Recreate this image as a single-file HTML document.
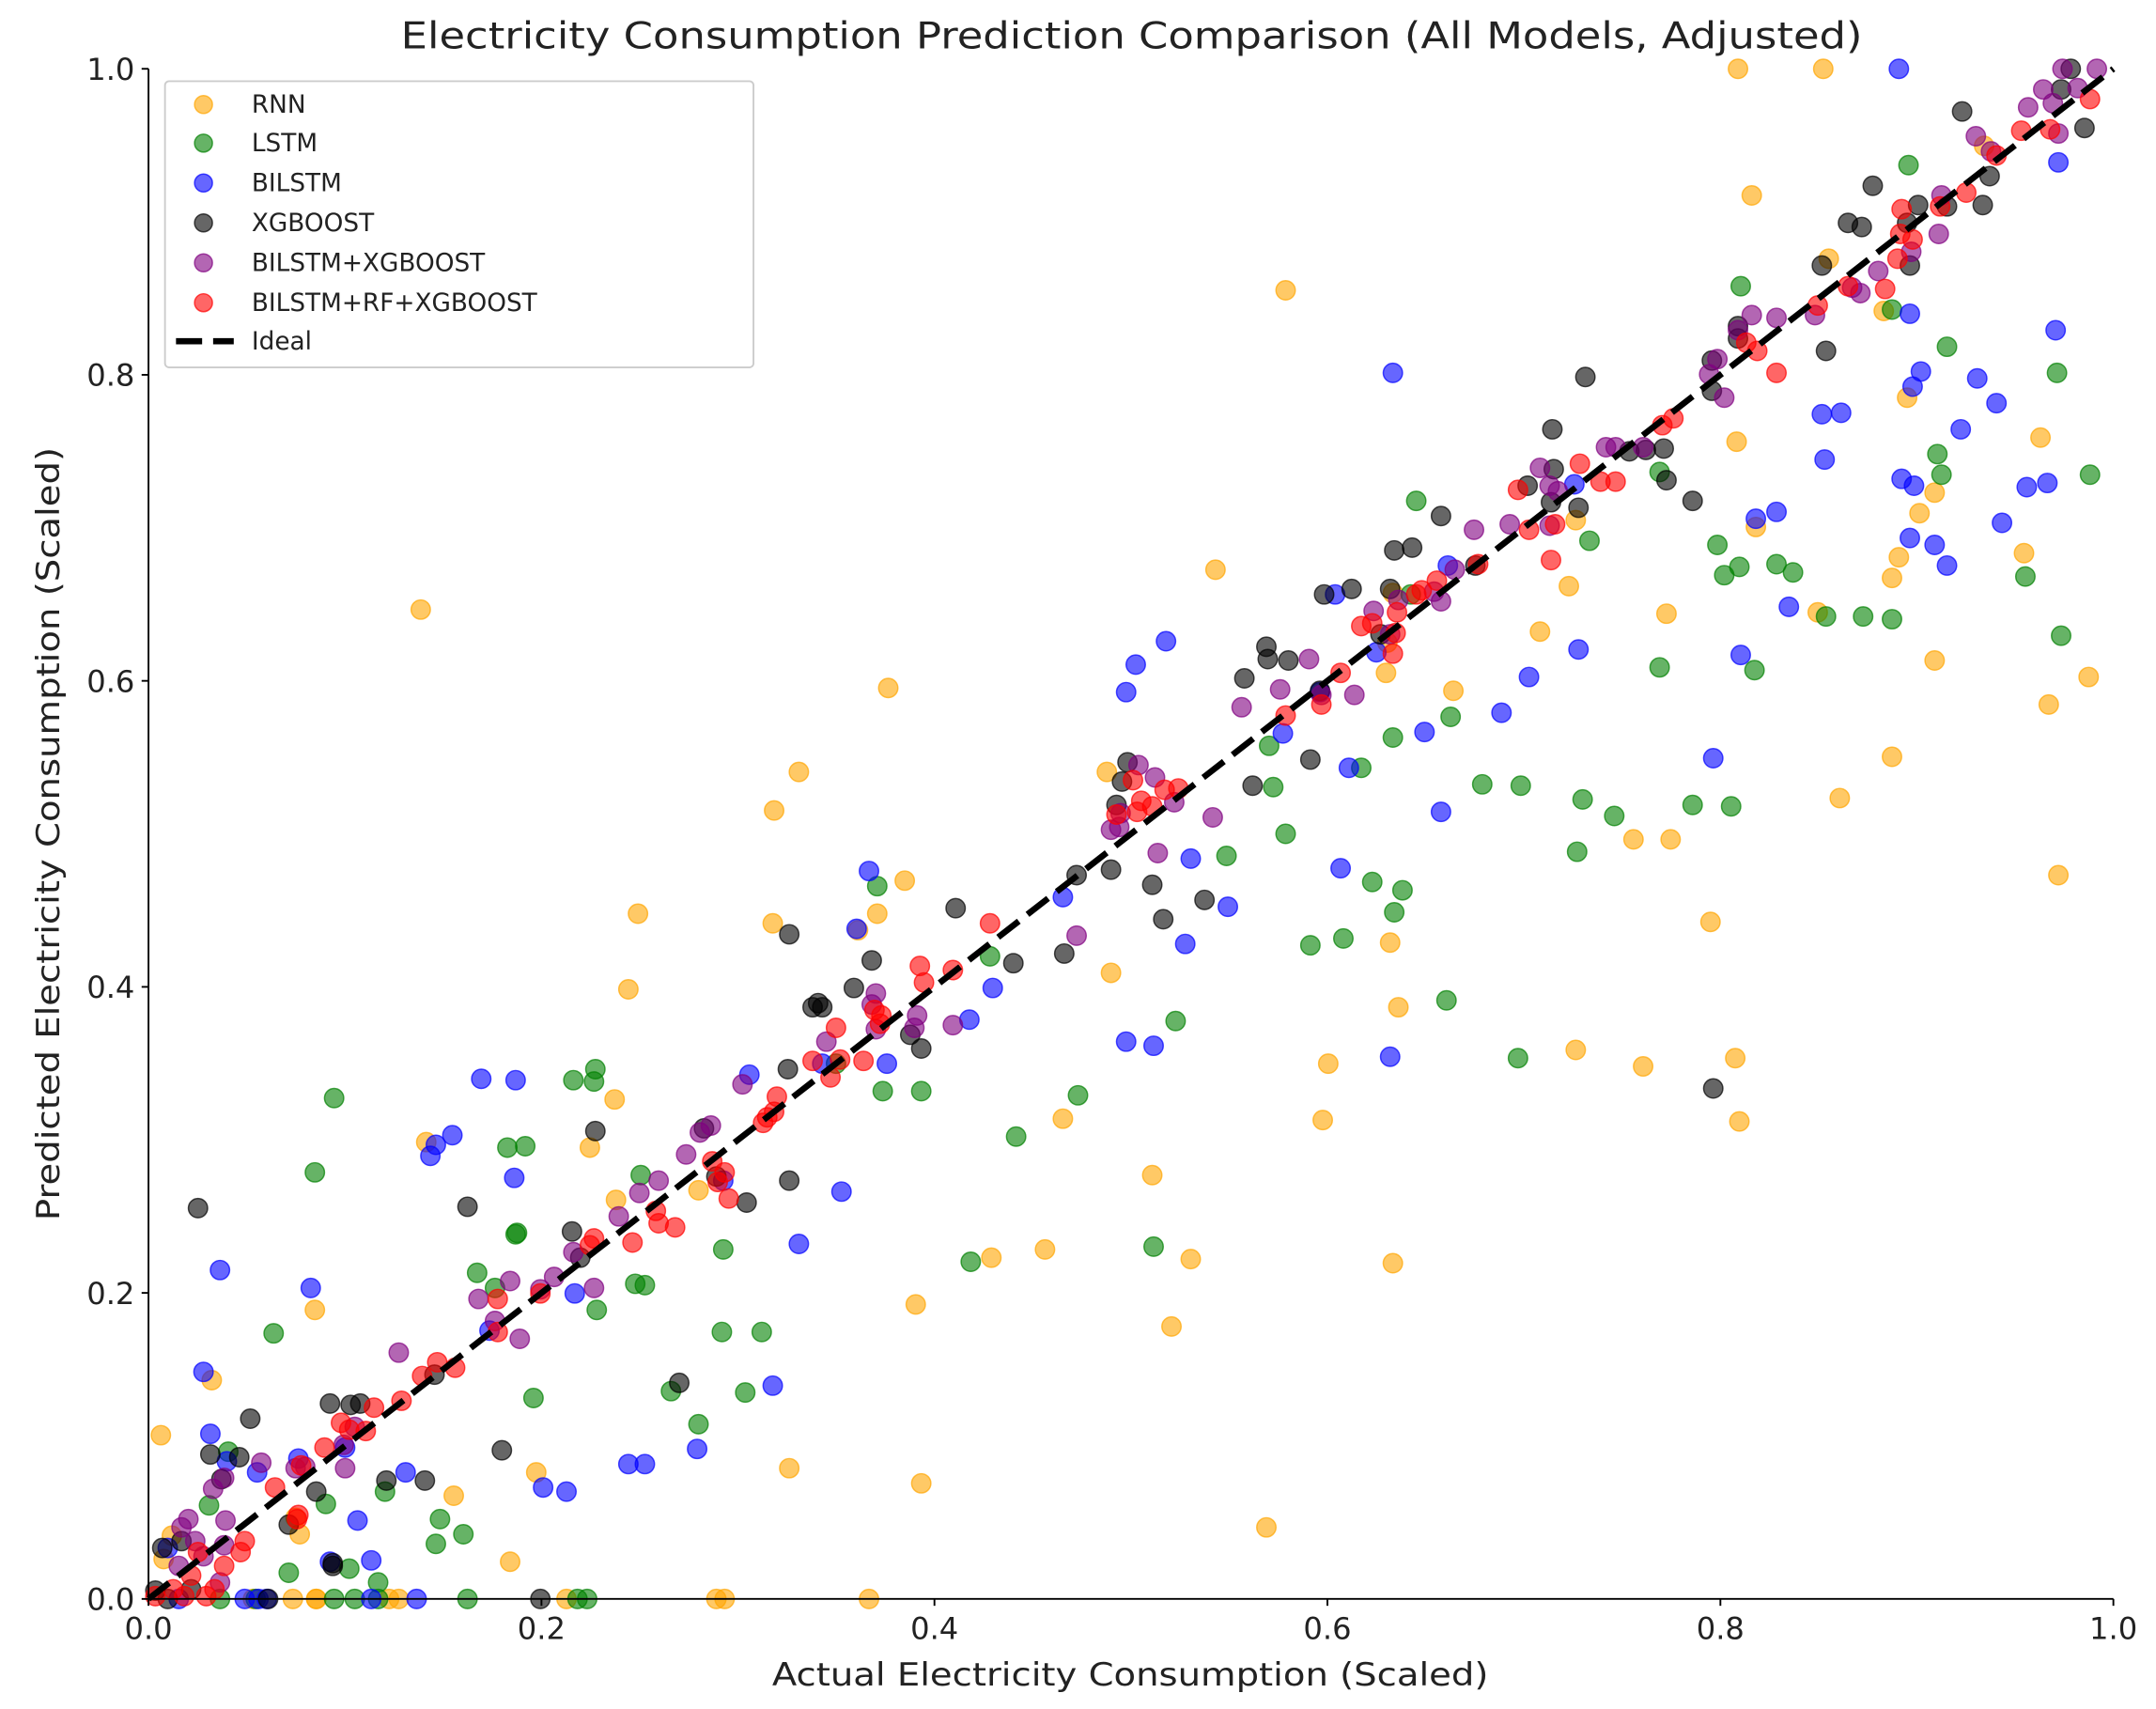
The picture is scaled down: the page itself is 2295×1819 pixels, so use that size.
<!DOCTYPE html>
<html><head><meta charset="utf-8"><style>
html,body{margin:0;padding:0;background:#fff}
svg{display:block}
text{font-family:"DejaVu Sans","Liberation Sans",sans-serif;fill:#222}
.o{fill:rgba(255,165,0,.6);stroke:rgba(255,165,0,.7);stroke-width:1}
.g{fill:rgba(0,128,0,.6);stroke:rgba(0,128,0,.7);stroke-width:1}
.b{fill:rgba(0,0,255,.6);stroke:rgba(0,0,255,.7);stroke-width:1}
.k{fill:rgba(0,0,0,.6);stroke:rgba(0,0,0,.7);stroke-width:1}
.p{fill:rgba(128,0,128,.6);stroke:rgba(128,0,128,.7);stroke-width:1}
.r{fill:rgba(255,0,0,.6);stroke:rgba(255,0,0,.7);stroke-width:1}
</style></head><body>
<svg width="2295" height="1819" viewBox="0 0 1568 1242" preserveAspectRatio="none" xmlns="http://www.w3.org/2000/svg">
<rect width="1568" height="1242" fill="#fff"/>
<text x="823" y="35" font-size="27" text-anchor="middle" textLength="1063" lengthAdjust="spacingAndGlyphs">Electricity Consumption Prediction Comparison (All Models, Adjusted)</text>
<g id="pts">
<g class="o" r="7">
<circle cx="1264" cy="50" r="7"/><circle cx="1326" cy="50" r="7"/><circle cx="1274" cy="142" r="7"/><circle cx="935" cy="211" r="7"/><circle cx="1387" cy="289" r="7"/><circle cx="1396" cy="373" r="7"/><circle cx="1407" cy="358" r="7"/><circle cx="1484" cy="318" r="7"/><circle cx="1472" cy="402" r="7"/><circle cx="1407" cy="480" r="7"/><circle cx="1519" cy="492" r="7"/><circle cx="1490" cy="512" r="7"/><circle cx="1497" cy="636" r="7"/><circle cx="1381" cy="405" r="7"/><circle cx="1376" cy="420" r="7"/><circle cx="1376" cy="550" r="7"/><circle cx="1338" cy="580" r="7"/><circle cx="1322" cy="445" r="7"/><circle cx="1263" cy="321" r="7"/><circle cx="1277" cy="383" r="7"/><circle cx="1262" cy="769" r="7"/><circle cx="1265" cy="815" r="7"/><circle cx="1244" cy="670" r="7"/><circle cx="1215" cy="610" r="7"/><circle cx="1195" cy="775" r="7"/><circle cx="1212" cy="446" r="7"/><circle cx="1188" cy="610" r="7"/><circle cx="1146" cy="763" r="7"/><circle cx="1141" cy="426" r="7"/><circle cx="1146" cy="378" r="7"/><circle cx="1120" cy="459" r="7"/><circle cx="1057" cy="502" r="7"/><circle cx="1013" cy="431" r="7"/><circle cx="1017" cy="732" r="7"/><circle cx="1013" cy="918" r="7"/><circle cx="1011" cy="685" r="7"/><circle cx="1008" cy="489" r="7"/><circle cx="962" cy="814" r="7"/><circle cx="966" cy="773" r="7"/><circle cx="884" cy="414" r="7"/><circle cx="808" cy="707" r="7"/><circle cx="773" cy="813" r="7"/><circle cx="760" cy="908" r="7"/><circle cx="721" cy="914" r="7"/><circle cx="646" cy="500" r="7"/><circle cx="658" cy="640" r="7"/><circle cx="638" cy="664" r="7"/><circle cx="624" cy="676" r="7"/><circle cx="581" cy="561" r="7"/><circle cx="563" cy="589" r="7"/><circle cx="562" cy="671" r="7"/><circle cx="574" cy="1067" r="7"/><circle cx="670" cy="1078" r="7"/><circle cx="666" cy="948" r="7"/><circle cx="852" cy="964" r="7"/><circle cx="866" cy="915" r="7"/><circle cx="838" cy="854" r="7"/><circle cx="464" cy="664" r="7"/><circle cx="457" cy="719" r="7"/><circle cx="447" cy="799" r="7"/><circle cx="429" cy="834" r="7"/><circle cx="390" cy="1070" r="7"/><circle cx="371" cy="1135" r="7"/><circle cx="330" cy="1087" r="7"/><circle cx="306" cy="443" r="7"/><circle cx="230" cy="1162" r="7"/><circle cx="213" cy="1162" r="7"/><circle cx="184" cy="1162" r="7"/><circle cx="117" cy="1043" r="7"/><circle cx="125" cy="1116" r="7"/><circle cx="154" cy="1003" r="7"/><circle cx="229" cy="952" r="7"/><circle cx="218" cy="1115" r="7"/><circle cx="215" cy="1103" r="7"/><circle cx="119" cy="1133" r="7"/><circle cx="230" cy="1162" r="7"/><circle cx="283" cy="1162" r="7"/><circle cx="521" cy="1162" r="7"/><circle cx="527" cy="1162" r="7"/><circle cx="632" cy="1162" r="7"/><circle cx="921" cy="1110" r="7"/><circle cx="412" cy="1162" r="7"/><circle cx="1330" cy="188" r="7"/><circle cx="1370" cy="226" r="7"/><circle cx="1443" cy="106" r="7"/><circle cx="1009" cy="467" r="7"/><circle cx="805" cy="561" r="7"/><circle cx="310" cy="830" r="7"/><circle cx="448" cy="872" r="7"/><circle cx="290" cy="1162" r="7"/><circle cx="508" cy="865" r="7"/>
</g>
<g class="g">
<circle cx="1266" cy="208" r="7"/><circle cx="1388" cy="120" r="7"/><circle cx="1416" cy="252" r="7"/><circle cx="1496" cy="271" r="7"/><circle cx="1520" cy="345" r="7"/><circle cx="1499" cy="462" r="7"/><circle cx="1473" cy="419" r="7"/><circle cx="1409" cy="330" r="7"/><circle cx="1412" cy="345" r="7"/><circle cx="1376" cy="225" r="7"/><circle cx="1376" cy="450" r="7"/><circle cx="1355" cy="448" r="7"/><circle cx="1328" cy="448" r="7"/><circle cx="1304" cy="416" r="7"/><circle cx="1292" cy="410" r="7"/><circle cx="1276" cy="487" r="7"/><circle cx="1265" cy="412" r="7"/><circle cx="1254" cy="418" r="7"/><circle cx="1249" cy="396" r="7"/><circle cx="1259" cy="586" r="7"/><circle cx="1231" cy="585" r="7"/><circle cx="1207" cy="485" r="7"/><circle cx="1207" cy="343" r="7"/><circle cx="1156" cy="393" r="7"/><circle cx="1151" cy="581" r="7"/><circle cx="1174" cy="593" r="7"/><circle cx="1147" cy="619" r="7"/><circle cx="1106" cy="571" r="7"/><circle cx="1104" cy="769" r="7"/><circle cx="1078" cy="570" r="7"/><circle cx="1052" cy="727" r="7"/><circle cx="1055" cy="521" r="7"/><circle cx="1030" cy="364" r="7"/><circle cx="1020" cy="647" r="7"/><circle cx="1014" cy="663" r="7"/><circle cx="1013" cy="536" r="7"/><circle cx="998" cy="641" r="7"/><circle cx="977" cy="682" r="7"/><circle cx="990" cy="558" r="7"/><circle cx="953" cy="687" r="7"/><circle cx="935" cy="606" r="7"/><circle cx="926" cy="572" r="7"/><circle cx="923" cy="542" r="7"/><circle cx="892" cy="622" r="7"/><circle cx="855" cy="742" r="7"/><circle cx="839" cy="906" r="7"/><circle cx="784" cy="796" r="7"/><circle cx="739" cy="826" r="7"/><circle cx="706" cy="917" r="7"/><circle cx="720" cy="695" r="7"/><circle cx="638" cy="644" r="7"/><circle cx="670" cy="793" r="7"/><circle cx="608" cy="773" r="7"/><circle cx="526" cy="908" r="7"/><circle cx="554" cy="968" r="7"/><circle cx="508" cy="1035" r="7"/><circle cx="488" cy="1011" r="7"/><circle cx="469" cy="934" r="7"/><circle cx="466" cy="854" r="7"/><circle cx="432" cy="786" r="7"/><circle cx="427" cy="1162" r="7"/><circle cx="420" cy="1162" r="7"/><circle cx="340" cy="1162" r="7"/><circle cx="337" cy="1115" r="7"/><circle cx="317" cy="1122" r="7"/><circle cx="280" cy="1084" r="7"/><circle cx="275" cy="1162" r="7"/><circle cx="258" cy="1162" r="7"/><circle cx="243" cy="1162" r="7"/><circle cx="237" cy="1093" r="7"/><circle cx="186" cy="1162" r="7"/><circle cx="160" cy="1162" r="7"/><circle cx="166" cy="1055" r="7"/><circle cx="243" cy="798" r="7"/><circle cx="229" cy="852" r="7"/><circle cx="199" cy="969" r="7"/><circle cx="210" cy="1143" r="7"/><circle cx="275" cy="1150" r="7"/><circle cx="254" cy="1140" r="7"/><circle cx="369" cy="834" r="7"/><circle cx="360" cy="936" r="7"/><circle cx="375" cy="897" r="7"/><circle cx="382" cy="833" r="7"/><circle cx="388" cy="1016" r="7"/><circle cx="417" cy="785" r="7"/><circle cx="376" cy="896" r="7"/><circle cx="434" cy="952" r="7"/><circle cx="320" cy="1104" r="7"/><circle cx="347" cy="925" r="7"/><circle cx="433" cy="777" r="7"/><circle cx="462" cy="933" r="7"/><circle cx="525" cy="968" r="7"/><circle cx="542" cy="1012" r="7"/><circle cx="642" cy="793" r="7"/><circle cx="1026" cy="432" r="7"/><circle cx="152" cy="1094" r="7"/>
</g>
<g class="b">
<circle cx="1381" cy="50" r="7"/><circle cx="1497" cy="118" r="7"/><circle cx="1495" cy="240" r="7"/><circle cx="1456" cy="380" r="7"/><circle cx="1438" cy="275" r="7"/><circle cx="1452" cy="293" r="7"/><circle cx="1474" cy="354" r="7"/><circle cx="1489" cy="351" r="7"/><circle cx="1416" cy="411" r="7"/><circle cx="1407" cy="396" r="7"/><circle cx="1392" cy="353" r="7"/><circle cx="1383" cy="348" r="7"/><circle cx="1389" cy="391" r="7"/><circle cx="1397" cy="270" r="7"/><circle cx="1391" cy="281" r="7"/><circle cx="1389" cy="228" r="7"/><circle cx="1339" cy="300" r="7"/><circle cx="1327" cy="334" r="7"/><circle cx="1301" cy="441" r="7"/><circle cx="1266" cy="476" r="7"/><circle cx="1277" cy="377" r="7"/><circle cx="1292" cy="372" r="7"/><circle cx="1246" cy="551" r="7"/><circle cx="1148" cy="472" r="7"/><circle cx="1112" cy="492" r="7"/><circle cx="1092" cy="518" r="7"/><circle cx="1013" cy="271" r="7"/><circle cx="1036" cy="532" r="7"/><circle cx="1048" cy="590" r="7"/><circle cx="1053" cy="411" r="7"/><circle cx="1011" cy="768" r="7"/><circle cx="1001" cy="474" r="7"/><circle cx="981" cy="558" r="7"/><circle cx="975" cy="631" r="7"/><circle cx="971" cy="432" r="7"/><circle cx="933" cy="533" r="7"/><circle cx="893" cy="659" r="7"/><circle cx="862" cy="686" r="7"/><circle cx="866" cy="624" r="7"/><circle cx="848" cy="466" r="7"/><circle cx="826" cy="483" r="7"/><circle cx="839" cy="760" r="7"/><circle cx="819" cy="757" r="7"/><circle cx="819" cy="503" r="7"/><circle cx="773" cy="652" r="7"/><circle cx="722" cy="718" r="7"/><circle cx="705" cy="741" r="7"/><circle cx="632" cy="633" r="7"/><circle cx="623" cy="675" r="7"/><circle cx="645" cy="773" r="7"/><circle cx="598" cy="773" r="7"/><circle cx="581" cy="904" r="7"/><circle cx="562" cy="1007" r="7"/><circle cx="545" cy="781" r="7"/><circle cx="526" cy="858" r="7"/><circle cx="507" cy="1053" r="7"/><circle cx="469" cy="1064" r="7"/><circle cx="457" cy="1064" r="7"/><circle cx="412" cy="1084" r="7"/><circle cx="395" cy="1081" r="7"/><circle cx="418" cy="940" r="7"/><circle cx="375" cy="785" r="7"/><circle cx="356" cy="967" r="7"/><circle cx="329" cy="825" r="7"/><circle cx="350" cy="784" r="7"/><circle cx="317" cy="832" r="7"/><circle cx="313" cy="840" r="7"/><circle cx="295" cy="1070" r="7"/><circle cx="270" cy="1134" r="7"/><circle cx="251" cy="1052" r="7"/><circle cx="240" cy="1135" r="7"/><circle cx="217" cy="1060" r="7"/><circle cx="188" cy="1162" r="7"/><circle cx="178" cy="1162" r="7"/><circle cx="148" cy="997" r="7"/><circle cx="165" cy="1062" r="7"/><circle cx="194" cy="1162" r="7"/><circle cx="226" cy="936" r="7"/><circle cx="160" cy="923" r="7"/><circle cx="153" cy="1042" r="7"/><circle cx="130" cy="1162" r="7"/><circle cx="187" cy="1070" r="7"/><circle cx="260" cy="1105" r="7"/><circle cx="122" cy="1125" r="7"/><circle cx="270" cy="1162" r="7"/><circle cx="303" cy="1162" r="7"/><circle cx="374" cy="856" r="7"/><circle cx="612" cy="866" r="7"/><circle cx="960" cy="503" r="7"/><circle cx="1145" cy="352" r="7"/><circle cx="1325" cy="301" r="7"/><circle cx="1426" cy="312" r="7"/>
</g>
<g class="k">
<circle cx="1506" cy="50" r="7"/><circle cx="1516" cy="93" r="7"/><circle cx="1499" cy="65" r="7"/><circle cx="1427" cy="81" r="7"/><circle cx="1447" cy="128" r="7"/><circle cx="1442" cy="149" r="7"/><circle cx="1416" cy="150" r="7"/><circle cx="1395" cy="149" r="7"/><circle cx="1387" cy="162" r="7"/><circle cx="1389" cy="193" r="7"/><circle cx="1354" cy="165" r="7"/><circle cx="1362" cy="135" r="7"/><circle cx="1344" cy="162" r="7"/><circle cx="1328" cy="255" r="7"/><circle cx="1325" cy="193" r="7"/><circle cx="1264" cy="237" r="7"/><circle cx="1264" cy="246" r="7"/><circle cx="1245" cy="262" r="7"/><circle cx="1245" cy="284" r="7"/><circle cx="1210" cy="326" r="7"/><circle cx="1212" cy="349" r="7"/><circle cx="1197" cy="327" r="7"/><circle cx="1231" cy="364" r="7"/><circle cx="1153" cy="274" r="7"/><circle cx="1148" cy="369" r="7"/><circle cx="1128" cy="365" r="7"/><circle cx="1130" cy="341" r="7"/><circle cx="1111" cy="353" r="7"/><circle cx="1073" cy="411" r="7"/><circle cx="1048" cy="375" r="7"/><circle cx="1027" cy="398" r="7"/><circle cx="1014" cy="400" r="7"/><circle cx="1011" cy="428" r="7"/><circle cx="1004" cy="461" r="7"/><circle cx="983" cy="428" r="7"/><circle cx="963" cy="432" r="7"/><circle cx="953" cy="552" r="7"/><circle cx="960" cy="502" r="7"/><circle cx="937" cy="480" r="7"/><circle cx="921" cy="470" r="7"/><circle cx="922" cy="479" r="7"/><circle cx="905" cy="493" r="7"/><circle cx="911" cy="571" r="7"/><circle cx="876" cy="654" r="7"/><circle cx="846" cy="668" r="7"/><circle cx="838" cy="643" r="7"/><circle cx="820" cy="554" r="7"/><circle cx="816" cy="568" r="7"/><circle cx="812" cy="585" r="7"/><circle cx="808" cy="632" r="7"/><circle cx="783" cy="636" r="7"/><circle cx="737" cy="700" r="7"/><circle cx="695" cy="660" r="7"/><circle cx="774" cy="693" r="7"/><circle cx="670" cy="762" r="7"/><circle cx="662" cy="752" r="7"/><circle cx="634" cy="698" r="7"/><circle cx="621" cy="718" r="7"/><circle cx="595" cy="729" r="7"/><circle cx="591" cy="732" r="7"/><circle cx="574" cy="679" r="7"/><circle cx="574" cy="858" r="7"/><circle cx="573" cy="777" r="7"/><circle cx="543" cy="874" r="7"/><circle cx="521" cy="855" r="7"/><circle cx="512" cy="820" r="7"/><circle cx="494" cy="1005" r="7"/><circle cx="433" cy="822" r="7"/><circle cx="422" cy="914" r="7"/><circle cx="416" cy="895" r="7"/><circle cx="365" cy="1054" r="7"/><circle cx="340" cy="877" r="7"/><circle cx="316" cy="999" r="7"/><circle cx="281" cy="1076" r="7"/><circle cx="262" cy="1020" r="7"/><circle cx="230" cy="1084" r="7"/><circle cx="242" cy="1138" r="7"/><circle cx="240" cy="1020" r="7"/><circle cx="210" cy="1108" r="7"/><circle cx="153" cy="1057" r="7"/><circle cx="144" cy="878" r="7"/><circle cx="182" cy="1031" r="7"/><circle cx="174" cy="1059" r="7"/><circle cx="118" cy="1125" r="7"/><circle cx="132" cy="1120" r="7"/><circle cx="161" cy="1075" r="7"/><circle cx="139" cy="1155" r="7"/><circle cx="113" cy="1156" r="7"/><circle cx="195" cy="1162" r="7"/><circle cx="309" cy="1076" r="7"/><circle cx="393" cy="1162" r="7"/><circle cx="122" cy="1162" r="7"/><circle cx="242" cy="1136" r="7"/><circle cx="255" cy="1021" r="7"/><circle cx="598" cy="732" r="7"/><circle cx="1185" cy="328" r="7"/><circle cx="1129" cy="312" r="7"/><circle cx="1246" cy="791" r="7"/>
</g>
<g class="p">
<circle cx="1500" cy="50" r="7"/><circle cx="1511" cy="64" r="7"/><circle cx="1525" cy="50" r="7"/><circle cx="1486" cy="65" r="7"/><circle cx="1475" cy="78" r="7"/><circle cx="1493" cy="75" r="7"/><circle cx="1497" cy="97" r="7"/><circle cx="1437" cy="99" r="7"/><circle cx="1448" cy="110" r="7"/><circle cx="1412" cy="142" r="7"/><circle cx="1410" cy="170" r="7"/><circle cx="1390" cy="183" r="7"/><circle cx="1366" cy="197" r="7"/><circle cx="1353" cy="213" r="7"/><circle cx="1347" cy="209" r="7"/><circle cx="1320" cy="229" r="7"/><circle cx="1292" cy="231" r="7"/><circle cx="1274" cy="229" r="7"/><circle cx="1264" cy="240" r="7"/><circle cx="1249" cy="261" r="7"/><circle cx="1254" cy="289" r="7"/><circle cx="1243" cy="272" r="7"/><circle cx="1168" cy="325" r="7"/><circle cx="1175" cy="325" r="7"/><circle cx="1120" cy="340" r="7"/><circle cx="1127" cy="353" r="7"/><circle cx="1127" cy="382" r="7"/><circle cx="1098" cy="381" r="7"/><circle cx="1058" cy="414" r="7"/><circle cx="1048" cy="437" r="7"/><circle cx="1043" cy="430" r="7"/><circle cx="1017" cy="436" r="7"/><circle cx="1011" cy="461" r="7"/><circle cx="999" cy="444" r="7"/><circle cx="985" cy="505" r="7"/><circle cx="961" cy="505" r="7"/><circle cx="952" cy="479" r="7"/><circle cx="931" cy="501" r="7"/><circle cx="903" cy="514" r="7"/><circle cx="882" cy="594" r="7"/><circle cx="854" cy="583" r="7"/><circle cx="840" cy="565" r="7"/><circle cx="828" cy="556" r="7"/><circle cx="815" cy="591" r="7"/><circle cx="814" cy="601" r="7"/><circle cx="842" cy="620" r="7"/><circle cx="808" cy="603" r="7"/><circle cx="783" cy="680" r="7"/><circle cx="693" cy="745" r="7"/><circle cx="667" cy="738" r="7"/><circle cx="665" cy="747" r="7"/><circle cx="637" cy="722" r="7"/><circle cx="634" cy="730" r="7"/><circle cx="637" cy="748" r="7"/><circle cx="601" cy="757" r="7"/><circle cx="540" cy="788" r="7"/><circle cx="517" cy="818" r="7"/><circle cx="509" cy="823" r="7"/><circle cx="499" cy="839" r="7"/><circle cx="479" cy="858" r="7"/><circle cx="465" cy="867" r="7"/><circle cx="450" cy="884" r="7"/><circle cx="432" cy="936" r="7"/><circle cx="417" cy="910" r="7"/><circle cx="403" cy="928" r="7"/><circle cx="393" cy="937" r="7"/><circle cx="378" cy="973" r="7"/><circle cx="371" cy="931" r="7"/><circle cx="360" cy="960" r="7"/><circle cx="348" cy="944" r="7"/><circle cx="290" cy="983" r="7"/><circle cx="258" cy="1037" r="7"/><circle cx="251" cy="1067" r="7"/><circle cx="222" cy="1066" r="7"/><circle cx="215" cy="1067" r="7"/><circle cx="190" cy="1063" r="7"/><circle cx="164" cy="1105" r="7"/><circle cx="163" cy="1123" r="7"/><circle cx="163" cy="1074" r="7"/><circle cx="155" cy="1082" r="7"/><circle cx="137" cy="1104" r="7"/><circle cx="132" cy="1110" r="7"/><circle cx="130" cy="1138" r="7"/><circle cx="142" cy="1120" r="7"/><circle cx="148" cy="1131" r="7"/><circle cx="160" cy="1150" r="7"/><circle cx="250" cy="1050" r="7"/><circle cx="1072" cy="385" r="7"/><circle cx="1133" cy="357" r="7"/><circle cx="1195" cy="325" r="7"/>
</g>
<g class="r">
<circle cx="1520" cy="72" r="7"/><circle cx="1491" cy="94" r="7"/><circle cx="1470" cy="95" r="7"/><circle cx="1452" cy="113" r="7"/><circle cx="1430" cy="140" r="7"/><circle cx="1411" cy="150" r="7"/><circle cx="1383" cy="152" r="7"/><circle cx="1382" cy="170" r="7"/><circle cx="1391" cy="174" r="7"/><circle cx="1380" cy="188" r="7"/><circle cx="1344" cy="208" r="7"/><circle cx="1371" cy="210" r="7"/><circle cx="1322" cy="222" r="7"/><circle cx="1292" cy="271" r="7"/><circle cx="1278" cy="255" r="7"/><circle cx="1270" cy="249" r="7"/><circle cx="1217" cy="304" r="7"/><circle cx="1209" cy="309" r="7"/><circle cx="1164" cy="350" r="7"/><circle cx="1149" cy="337" r="7"/><circle cx="1131" cy="381" r="7"/><circle cx="1128" cy="407" r="7"/><circle cx="1112" cy="385" r="7"/><circle cx="1104" cy="356" r="7"/><circle cx="1075" cy="410" r="7"/><circle cx="1045" cy="422" r="7"/><circle cx="1034" cy="429" r="7"/><circle cx="1030" cy="432" r="7"/><circle cx="1016" cy="445" r="7"/><circle cx="1013" cy="475" r="7"/><circle cx="1015" cy="460" r="7"/><circle cx="998" cy="453" r="7"/><circle cx="990" cy="455" r="7"/><circle cx="975" cy="489" r="7"/><circle cx="961" cy="512" r="7"/><circle cx="935" cy="520" r="7"/><circle cx="857" cy="573" r="7"/><circle cx="847" cy="574" r="7"/><circle cx="838" cy="586" r="7"/><circle cx="830" cy="582" r="7"/><circle cx="827" cy="590" r="7"/><circle cx="824" cy="567" r="7"/><circle cx="812" cy="592" r="7"/><circle cx="720" cy="671" r="7"/><circle cx="693" cy="705" r="7"/><circle cx="672" cy="714" r="7"/><circle cx="669" cy="702" r="7"/><circle cx="641" cy="738" r="7"/><circle cx="636" cy="734" r="7"/><circle cx="640" cy="744" r="7"/><circle cx="628" cy="771" r="7"/><circle cx="611" cy="770" r="7"/><circle cx="608" cy="747" r="7"/><circle cx="604" cy="783" r="7"/><circle cx="591" cy="771" r="7"/><circle cx="565" cy="797" r="7"/><circle cx="563" cy="808" r="7"/><circle cx="558" cy="812" r="7"/><circle cx="555" cy="816" r="7"/><circle cx="530" cy="871" r="7"/><circle cx="527" cy="852" r="7"/><circle cx="522" cy="859" r="7"/><circle cx="518" cy="844" r="7"/><circle cx="491" cy="892" r="7"/><circle cx="477" cy="880" r="7"/><circle cx="479" cy="889" r="7"/><circle cx="460" cy="903" r="7"/><circle cx="432" cy="900" r="7"/><circle cx="429" cy="905" r="7"/><circle cx="393" cy="940" r="7"/><circle cx="362" cy="944" r="7"/><circle cx="362" cy="968" r="7"/><circle cx="331" cy="994" r="7"/><circle cx="318" cy="990" r="7"/><circle cx="307" cy="1000" r="7"/><circle cx="292" cy="1018" r="7"/><circle cx="272" cy="1023" r="7"/><circle cx="266" cy="1040" r="7"/><circle cx="254" cy="1039" r="7"/><circle cx="236" cy="1052" r="7"/><circle cx="248" cy="1034" r="7"/><circle cx="219" cy="1065" r="7"/><circle cx="217" cy="1101" r="7"/><circle cx="216" cy="1104" r="7"/><circle cx="200" cy="1081" r="7"/><circle cx="178" cy="1120" r="7"/><circle cx="163" cy="1138" r="7"/><circle cx="144" cy="1128" r="7"/><circle cx="139" cy="1145" r="7"/><circle cx="150" cy="1160" r="7"/><circle cx="134" cy="1160" r="7"/><circle cx="126" cy="1155" r="7"/><circle cx="113" cy="1160" r="7"/><circle cx="156" cy="1155" r="7"/><circle cx="175" cy="1128" r="7"/><circle cx="1175" cy="350" r="7"/>
</g>
</g>
<line x1="108" y1="1162" x2="1537" y2="50" stroke="#000" stroke-width="4.5" stroke-dasharray="19 8"/>
<!-- axes -->
<line x1="108" y1="50" x2="108" y2="1162" stroke="#000" stroke-width="1.3"/>
<line x1="108" y1="1162" x2="1537" y2="1162" stroke="#000" stroke-width="1.3"/>
<g stroke="#000" stroke-width="1.3">
<line x1="103" y1="1162" x2="108" y2="1162"/><line x1="103" y1="939.6" x2="108" y2="939.6"/><line x1="103" y1="717.2" x2="108" y2="717.2"/><line x1="103" y1="494.8" x2="108" y2="494.8"/><line x1="103" y1="272.4" x2="108" y2="272.4"/><line x1="103" y1="50" x2="108" y2="50"/>
<line x1="108" y1="1162" x2="108" y2="1167"/><line x1="393.8" y1="1162" x2="393.8" y2="1167"/><line x1="679.6" y1="1162" x2="679.6" y2="1167"/><line x1="965.4" y1="1162" x2="965.4" y2="1167"/><line x1="1251.2" y1="1162" x2="1251.2" y2="1167"/><line x1="1537" y1="1162" x2="1537" y2="1167"/>
</g>
<g font-size="22" text-anchor="end">
<text x="98" y="1170">0.0</text><text x="98" y="947.6">0.2</text><text x="98" y="725.2">0.4</text><text x="98" y="502.8">0.6</text><text x="98" y="280.4">0.8</text><text x="98" y="58">1.0</text>
</g>
<g font-size="22" text-anchor="middle">
<text x="108" y="1191">0.0</text><text x="393.8" y="1191">0.2</text><text x="679.6" y="1191">0.4</text><text x="965.4" y="1191">0.6</text><text x="1251.2" y="1191">0.8</text><text x="1537" y="1191">1.0</text>
</g>
<text x="822" y="1225" font-size="23" text-anchor="middle" textLength="521" lengthAdjust="spacingAndGlyphs">Actual Electricity Consumption (Scaled)</text>
<text transform="translate(43,606) rotate(-90)" font-size="23" text-anchor="middle" textLength="562" lengthAdjust="spacingAndGlyphs">Predicted Electricity Consumption (Scaled)</text>
<!-- legend -->
<rect x="120" y="59" width="428" height="208" rx="3" fill="rgba(255,255,255,0.85)" stroke="#cccccc" stroke-width="1.3"/>
<circle cx="148" cy="76" r="6.5" class="o"/><circle cx="148" cy="104" r="6.5" class="g"/><circle cx="148" cy="133" r="6.5" class="b"/><circle cx="148" cy="162" r="6.5" class="k"/><circle cx="148" cy="191" r="6.5" class="p"/><circle cx="148" cy="220" r="6.5" class="r"/>
<line x1="128" y1="248" x2="170" y2="248" stroke="#000" stroke-width="4.5" stroke-dasharray="19 8"/>
<g font-size="18">
<text x="183" y="82">RNN</text><text x="183" y="110">LSTM</text><text x="183" y="139">BILSTM</text><text x="183" y="168">XGBOOST</text><text x="183" y="197">BILSTM+XGBOOST</text><text x="183" y="226">BILSTM+RF+XGBOOST</text><text x="183" y="254">Ideal</text>
</g>
</svg>
</body></html>
